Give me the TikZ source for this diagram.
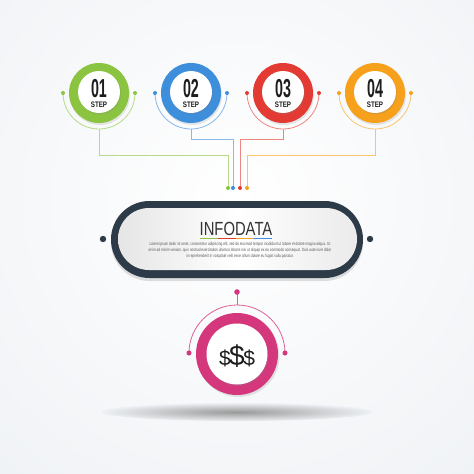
\documentclass[tikz,border=0pt]{standalone}
\usepackage{fontspec}
\setmainfont{Liberation Sans}
\usepackage{graphicx}
\usetikzlibrary{shapes.misc,shadows,calc}
\definecolor{bg}{HTML}{EDF0F4}
\definecolor{cgreen}{HTML}{8BC440}
\definecolor{cblue}{HTML}{3D8EDB}
\definecolor{cred}{HTML}{E33B33}
\definecolor{corange}{HTML}{F6A01C}
\definecolor{cpink}{HTML}{D4377C}
\definecolor{cdark}{HTML}{2D3A47}
\definecolor{ink}{HTML}{1E1E1E}
\newcommand{\hsq}[2]{\scalebox{#1}[1]{#2}}
\begin{document}
\begin{tikzpicture}[x=1pt,y=-1pt,
  ring/.style={circle, inner sep=0pt, minimum size=60pt, drop shadow={opacity=0.18, shadow xshift=1pt, shadow yshift=-2pt}},
  face/.style={circle, inner sep=0pt, minimum size=42pt, fill=white, drop shadow={opacity=0.22, shadow xshift=1pt, shadow yshift=-1.5pt}},
  link/.style={line width=0.8pt},
  numtext/.style={inner sep=0pt, anchor=base, text=ink, text depth=0pt},
]
\path[use as bounding box] (0,0) rectangle (474,474);
\fill[bg] (0,0) rectangle (474,474);
\shade[inner color=white, outer color=bg] (237,200) ellipse (430 and 430);
% floor shadow
\shade[inner color=black!40, outer color=bg] (237,412) ellipse (135 and 9);

% steps
\foreach \i/\x/\c/\ky/\dx in {1/99/cgreen/155/228, 2/191/cblue/139/233, 3/283/cred/139/240, 4/375/corange/155/247}{
  \draw[link, \c!62!white] (\x-36,93) arc[start angle=180, end angle=0, radius=36];
  \fill[\c] (\x-36,93) circle (2);
  \fill[\c] (\x+36,93) circle (2);
  \node[ring, fill=\c] (s\i) at (\x,93) {};
  \node[face] (f\i) at (\x,92) {};
  \node[numtext, text height=18pt] at (\x,97) {\hsq{0.55}{\fontsize{26}{26}\selectfont\bfseries 0\i}};
  \node[numtext, text height=5.5pt] at (\x,107.5) {\hsq{0.78}{\fontsize{8}{8}\selectfont\bfseries STEP}};
  \coordinate (a\i) at (\x,129);
  \coordinate (k\i) at (\dx,\ky);
  \coordinate (d\i) at (\dx,188);
  \draw[link, \c!62!white] (a\i) |- (k\i) -- (d\i);
  \fill[\c] (d\i) circle (2);
}

% capsule
\node[rounded rectangle, fill=cdark, minimum width=252pt, minimum height=77pt, inner sep=0pt,
      drop shadow={opacity=0.25, shadow xshift=0pt, shadow yshift=-3pt}] (cap) at (237,239.5) {};
\node[rounded rectangle, minimum width=239pt, minimum height=62pt, inner sep=0pt,
      left color=gray!20, right color=gray!16, middle color=white] (capin) at (237.5,239) {};
\fill[cdark] (103,239) circle (3.2);
\fill[cdark] (370,239) circle (3.2);
\node[numtext, text=black!80] (title) at (236,235) {\hsq{0.78}{\fontsize{19}{19}\selectfont INFODATA}};
\draw[line width=1pt, cgreen] (200,238.5) -- (218,238.5);
\draw[line width=1pt, cred] (218,238.5) -- (236,238.5);
\draw[line width=1pt, corange] (236,238.5) -- (254,238.5);
\draw[line width=1pt, cblue] (254,238.5) -- (272,238.5);
\node[inner sep=0pt, text=black!65] (body) at (240,250.5) {\hsq{0.72}{\fontsize{4.5}{6}\selectfont
  \begin{tabular}{@{}c@{}}
  Lorem ipsum dolor sit amet, consectetur adipiscing elit, sed do eiusmod tempor incididunt ut labore et dolore magna aliqua. Ut\\
  enim ad minim veniam, quis nostrud exercitation ullamco laboris nisi ut aliquip ex ea commodo consequat. Duis aute irure dolor\\
  in reprehenderit in voluptate velit esse cillum dolore eu fugiat nulla pariatur.
  \end{tabular}}};

% money
\coordinate (ml) at (189,353);
\coordinate (mt) at (237,305);
\coordinate (mp) at (237,292);
\draw[link, cpink!80!white] (ml) arc[start angle=180, end angle=360, radius=48];
\fill[cpink] (189,353) circle (2.5);
\fill[cpink] (285,353) circle (2.5);
\draw[link, cpink!80!white] (mt) -- (mp);
\fill[cpink] (mp) circle (2.8);
\node[circle, fill=cpink, minimum size=82pt, inner sep=0pt, drop shadow={opacity=0.2, shadow xshift=1.5pt, shadow yshift=-2pt}] (money) at (237,354) {};
\node[face, minimum size=61pt] (mface) at (237,354) {};
\node[inner sep=0pt, text=ink] at (237,356) {\fontsize{21}{21}\selectfont\$\kern-1.5pt\fontsize{28}{28}\selectfont\$\kern-1.5pt\fontsize{21}{21}\selectfont\$};
\end{tikzpicture}
\end{document}
